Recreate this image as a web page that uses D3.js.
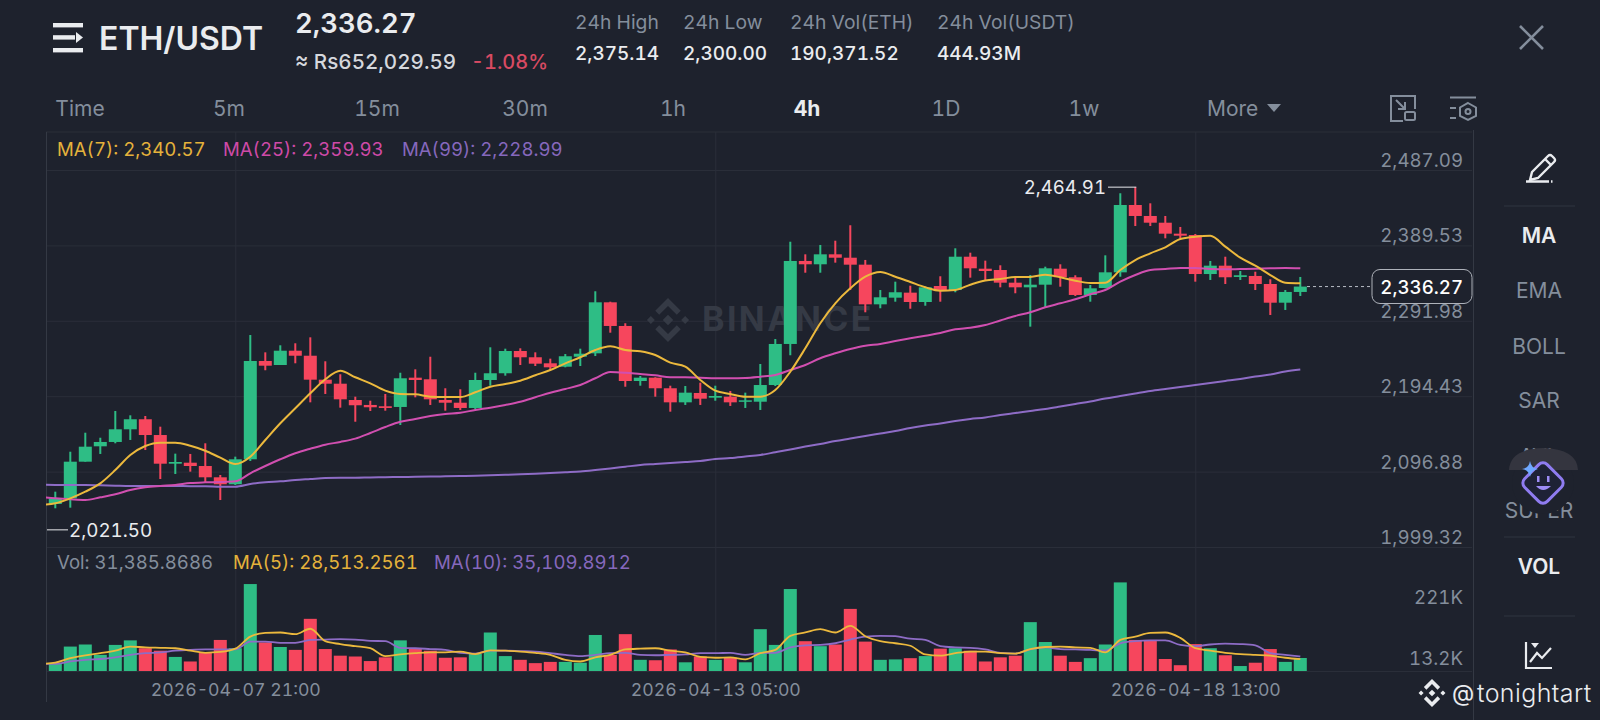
<!DOCTYPE html>
<html>
<head>
<meta charset="utf-8">
<script src="https://cdn.jsdelivr.net/npm/d3@7"></script>
<style>
  html, body { margin: 0; padding: 0; background: #1e222d; overflow: hidden; }
  text { font-family: Inter, "Noto Sans", sans-serif; font-variant-numeric: tabular-nums; }
</style>
</head>
<body>
<div id="chart"></div>
<script>
// candles, oldest first, 4h each
var opens = [2055.0,2062.3,2109.7,2129.6,2135.2,2151.6,2164.6,2144.2,2107.1,2108.4,2104.1,2089.5,2080.5,2112.8,2240.0,2234.8,2253.3,2246.8,2215.8,2210.6,2189.5,2183.1,2181.4,2180.5,2218.4,2216.3,2189.5,2186.0,2179.2,2215.4,2224.1,2252.9,2244.8,2237.0,2232.6,2245.5,2249.9,2315.9,2285.3,2214.1,2218.4,2204.7,2186.5,2198.6,2192.5,2193.8,2187.8,2187.3,2208.9,2262.0,2369.4,2365.1,2378.0,2373.6,2364.6,2313.3,2321.9,2328.4,2316.3,2337.0,2331.8,2374.9,2359.4,2357.7,2341.3,2335.3,2338.7,2359.4,2348.3,2325.4,2334.4,2354.7,2441.8,2427.6,2418.9,2404.7,2403.0,2352.5,2363.3,2348.7,2350.0,2339.6,2315.4,2329.3];
var highs = [2070.9,2122.6,2147.2,2140.7,2175.3,2169.7,2168.8,2155.0,2120.1,2119.7,2133.5,2092.5,2116.2,2273.6,2251.2,2260.3,2262.9,2270.6,2239.6,2222.8,2193.8,2188.6,2197.3,2224.8,2229.2,2245.5,2204.7,2203.4,2224.8,2257.7,2255.9,2256.4,2251.2,2243.0,2249.0,2255.9,2330.2,2316.7,2288.8,2220.6,2218.9,2208.0,2207.6,2211.9,2208.0,2201.2,2199.0,2236.1,2268.4,2394.3,2378.0,2390.1,2395.6,2415.6,2370.7,2331.8,2342.6,2337.4,2336.1,2349.6,2385.8,2380.1,2369.8,2363.8,2348.3,2351.2,2362.0,2365.1,2350.9,2338.3,2376.7,2457.0,2464.91,2444.0,2427.6,2413.4,2404.3,2369.4,2374.9,2356.4,2355.5,2345.7,2331.8,2348.7];
var lows = [2049.4,2050.2,2109.7,2119.7,2133.5,2137.8,2124.8,2087.3,2093.8,2096.8,2083.0,2060.1,2079.6,2110.6,2228.0,2234.8,2237.0,2186.5,2197.3,2179.6,2161.4,2175.3,2175.7,2157.2,2193.0,2183.1,2175.7,2176.6,2177.5,2208.0,2221.0,2234.8,2233.5,2228.3,2231.8,2233.5,2246.4,2276.6,2206.7,2208.0,2193.8,2174.4,2183.1,2183.1,2188.6,2181.8,2179.2,2176.6,2207.6,2247.4,2354.2,2354.2,2367.2,2331.8,2303.0,2308.2,2316.7,2307.6,2311.5,2316.7,2328.9,2347.8,2344.8,2335.3,2327.6,2284.4,2309.5,2336.1,2324.1,2316.7,2334.0,2349.0,2414.6,2414.6,2398.7,2398.7,2342.6,2344.8,2339.6,2344.8,2331.8,2299.5,2306.0,2324.1];
var closes = [2062.3,2109.7,2129.1,2135.2,2151.6,2164.6,2144.2,2107.1,2109.3,2104.1,2089.5,2080.5,2112.8,2240.0,2233.9,2253.3,2246.8,2215.8,2210.6,2190.4,2182.7,2180.1,2179.2,2217.6,2215.4,2190.4,2186.0,2179.2,2215.4,2224.1,2252.9,2244.8,2236.5,2231.8,2246.1,2249.4,2315.9,2285.3,2214.1,2218.4,2204.7,2186.5,2199.0,2191.2,2194.7,2186.5,2189.1,2208.9,2262.0,2369.4,2365.1,2378.0,2373.6,2364.6,2313.3,2322.4,2328.9,2316.3,2335.3,2330.5,2374.9,2359.9,2356.4,2341.3,2335.3,2338.7,2359.9,2348.3,2325.4,2334.0,2354.7,2441.8,2427.6,2418.9,2404.7,2402.1,2352.5,2363.3,2348.3,2350.9,2339.6,2315.4,2329.3,2336.27];
// volume in thousands
var volumes = [17,59,64,39,63,74,55,49,34,23,44,75,55,210,69,58,51,126,53,37,35,24,33,74,55,49,32,33,41,93,36,27,19,22,22,20,87,39,89,27,26,52,21,35,27,32,21,101,63,198,72,60,64,150,71,27,28,31,36,54,55,49,23,33,37,118,70,37,22,31,64,214,75,75,29,14,65,55,38,12,20,53,22,31.39];

// moving averages, first value is the candle just left of the frame
var ma7 = [2053.7,2055.9,2062.3,2070.9,2081.7,2098.9,2118.4,2130.0,2134.3,2134.3,2130.4,2123.9,2114.9,2106.7,2116.2,2137.8,2159.4,2178.8,2198.2,2216.3,2227.4,2218.9,2211.1,2201.6,2197.3,2196.9,2193.8,2193.4,2193.4,2199.5,2206.7,2210.2,2214.5,2221.5,2228.3,2237.0,2244.8,2254.2,2259.0,2254.2,2252.5,2247.7,2237.8,2232.6,2215.4,2201.6,2197.3,2193.8,2193.8,2202.4,2226.1,2256.4,2288.8,2314.6,2334.0,2349.0,2355.1,2349.0,2342.2,2335.3,2330.9,2331.8,2338.7,2344.2,2346.0,2348.7,2348.7,2351.6,2348.3,2343.9,2340.9,2341.3,2357.7,2370.6,2379.3,2387.1,2397.8,2400.8,2402.1,2387.9,2373.6,2363.3,2351.2,2341.3,2340.57];
var ma25 = [2064.0,2062.3,2061.0,2060.1,2063.6,2067.5,2073.1,2076.6,2078.3,2079.6,2082.1,2083.0,2083.4,2084.3,2094.7,2104.1,2112.8,2120.6,2126.5,2131.7,2135.2,2139.5,2146.8,2154.6,2161.4,2164.9,2168.8,2171.4,2173.1,2176.6,2179.6,2183.1,2187.3,2193.0,2199.0,2203.8,2208.9,2217.6,2225.7,2224.8,2223.1,2221.5,2218.9,2218.9,2218.4,2217.6,2217.6,2218.0,2219.7,2221.9,2228.3,2234.8,2243.5,2249.9,2255.5,2259.8,2262.0,2265.8,2269.3,2272.7,2276.2,2281.0,2283.0,2286.5,2292.4,2298.2,2303.0,2309.5,2314.6,2319.8,2326.3,2331.8,2342.6,2351.2,2357.7,2359.0,2360.3,2360.3,2359.0,2358.6,2359.0,2359.4,2359.9,2360.3,2359.93];
var ma99 = [2079.9,2079.6,2079.6,2079.6,2079.2,2078.7,2078.3,2078.3,2078.3,2078.3,2077.9,2077.9,2077.4,2077.4,2080.8,2083.0,2084.3,2086.0,2087.3,2088.6,2089.0,2089.0,2089.4,2089.6,2089.9,2090.1,2090.4,2090.8,2091.2,2091.6,2092.1,2092.7,2093.4,2094.2,2095.1,2096.1,2097.1,2098.9,2101.0,2103.2,2105.4,2106.7,2108.0,2109.3,2110.6,2113.2,2114.5,2116.4,2118.4,2121.9,2125.5,2129.4,2132.6,2136.5,2139.7,2143.0,2146.2,2149.4,2153.3,2156.5,2159.1,2162.3,2164.9,2166.9,2170.1,2172.7,2175.3,2177.9,2181.1,2184.4,2187.6,2191.5,2194.7,2198.0,2201.2,2203.8,2206.3,2208.9,2211.5,2214.1,2216.7,2219.9,2222.5,2226.4,2228.99];
var volMa5 = [17,20,31,38,43,49,59,57,56,55,49,44,46,54,83,92,93,89,102,72,65,60,55,36,40,43,45,45,47,41,50,49,47,44,39,27,23,33,39,52,54,55,49,45,34,32,33,28,43,51,85,93,101,93,109,84,72,67,61,40,37,43,47,47,43,42,53,58,59,57,56,45,75,83,92,93,80,55,49,44,41,39,37,32,28.51];
var volMa10 = [17,17,23,27,29,33,39,43,45,49,51,52,52,52,71,71,68,68,75,76,77,76,73,72,56,55,53,51,44,42,49,49,48,47,43,39,36,39,43,44,39,38,39,40,43,43,44,39,44,44,57,62,63,67,76,83,85,84,78,75,60,57,56,52,44,42,52,57,53,52,51,49,67,72,74,74,63,60,64,66,65,62,43,39,35.11];

var priceTicks = [2487.09, 2389.53, 2291.98, 2194.43, 2096.88, 1999.32];
var volTickLabels = ["221K", "13.2K"];
var timeTickIndex = [12, 44, 76];
var timeTickLabels = ["2026-04-07 21:00", "2026-04-13 05:00", "2026-04-18 13:00"];
var intervals = ["Time", "5m", "15m", "30m", "1h", "4h", "1D", "1w"];
var statHeads = ["24h High", "24h Low", "24h Vol(ETH)", "24h Vol(USDT)"];
var statValues = ["2,375.14", "2,300.00", "190,371.52", "444.93M"];
var sideItems = ["MA", "EMA", "BOLL", "SAR", "AVL", "SUPER", "VOL"];

var lastPrice = 2336.27, highPrice = 2464.91, lowPrice = 2021.50;

var width = 1600, height = 720;
var bg = "#1e222d", up = "#2ebd85", down = "#f6465d", grey = "#848e9c", grid = "#2a2e39", frame = "#343944";
var yellow = "#ecb93d", pink = "#d14fb0", purple = "#8e6cc6";

var svg = d3.select("#chart").append("svg")
  .attr("width", width)
  .attr("height", height)
  .style("display", "block");

svg.append("rect").attr("width", width).attr("height", height).attr("fill", bg);

// scales
var x = d3.scaleLinear().domain([0, 83]).range([55.3, 1300.3]);
var y = d3.scaleLinear().domain([1999.32, 2487.09]).range([547, 170]);
var yVol = d3.scaleLinear().domain([0, 221]).range([671, 579.5]);
var bodyW = 13;

svg.append("clipPath").attr("id", "plot")
  .append("rect").attr("x", 46).attr("y", 130).attr("width", 1426).attr("height", 560);

// price grid + labels
var yAxis = d3.axisLeft(y).tickValues(priceTicks).tickSize(1426).tickFormat(d3.format(",.2f"));
var gy = svg.append("g").attr("transform", "translate(1472,0)").call(yAxis);
gy.select(".domain").remove();
gy.selectAll("line").attr("stroke", grid);
gy.selectAll("text")
  .attr("x", -9).attr("dy", "-3.6px")
  .attr("fill", grey).attr("font-size", 18.7);

// time grid + labels
var xAxis = d3.axisBottom(x).tickValues(timeTickIndex).tickSize(-539)
  .tickFormat(function(d) { return timeTickLabels[timeTickIndex.indexOf(d)]; });
var gx = svg.append("g").attr("transform", "translate(0,671)").call(xAxis);
gx.select(".domain").remove();
gx.selectAll("line").attr("stroke", grid);
gx.selectAll("text").attr("y", 12).attr("fill", grey).attr("font-size", 17.7);

// frame
svg.append("line").attr("x1", 46).attr("x2", 1472).attr("y1", 132).attr("y2", 132).attr("stroke", grid);
svg.append("line").attr("x1", 46).attr("x2", 1472).attr("y1", 671.5).attr("y2", 671.5).attr("stroke", grid);
svg.append("line").attr("x1", 46.5).attr("x2", 46.5).attr("y1", 132).attr("y2", 702).attr("stroke", frame);
svg.append("line").attr("x1", 1473.5).attr("x2", 1473.5).attr("y1", 130).attr("y2", 720).attr("stroke", frame);

// watermark
drawBinance(svg, 668, 320, 22, "#353a45");
svg.append("text").attr("x", 702).attr("y", 331).attr("font-size", 34).attr("font-weight", 700)
  .attr("letter-spacing", 2.4).attr("fill", "#353a45").text("BINANCE");

var plot = svg.append("g").attr("clip-path", "url(#plot)");

// candles
var candles = plot.selectAll(".candle").data(closes).join("g").attr("class", "candle");
candles.append("rect")
  .attr("x", function(d, i) { return x(i) - 1; })
  .attr("width", 2)
  .attr("y", function(d, i) { return y(highs[i]); })
  .attr("height", function(d, i) { return y(lows[i]) - y(highs[i]); })
  .attr("fill", function(d, i) { return d >= opens[i] ? up : down; });
candles.append("rect")
  .attr("x", function(d, i) { return x(i) - bodyW / 2; })
  .attr("width", bodyW)
  .attr("y", function(d, i) { return y(Math.max(d, opens[i])); })
  .attr("height", function(d, i) { return Math.max(1.5, Math.abs(y(d) - y(opens[i]))); })
  .attr("fill", function(d, i) { return d >= opens[i] ? up : down; });

// volume bars
plot.selectAll(".vol").data(volumes).join("rect").attr("class", "vol")
  .attr("x", function(d, i) { return x(i) - bodyW / 2; })
  .attr("width", bodyW)
  .attr("y", function(d) { return yVol(d); })
  .attr("height", function(d) { return yVol(0) - yVol(d); })
  .attr("fill", function(d, i) { return closes[i] >= opens[i] ? up : down; });

// ma lines start one candle left of the frame
function maLine(values, scale, color, w) {
  var line = d3.line()
    .x(function(d, i) { return x(i - 1); })
    .y(function(d) { return scale(d); })
    .curve(d3.curveMonotoneX);
  plot.append("path").attr("d", line(values)).attr("fill", "none")
    .attr("stroke", color).attr("stroke-width", w).attr("stroke-linejoin", "round");
}
maLine(ma99, y, purple, 2);
maLine(ma25, y, pink, 2);
maLine(ma7, y, yellow, 2);
maLine(volMa10, yVol, purple, 1.8);
maLine(volMa5, yVol, yellow, 1.8);

// legends
function legend(parts, ly) {
  parts.forEach(function(p) {
    svg.append("text").attr("x", p[0]).attr("y", ly).attr("font-size", 18.6)
      .attr("fill", p[2]).text(p[1]);
  });
}
legend([[57, "MA(7): 2,340.57", "#e5b23b"], [223, "MA(25): 2,359.93", "#cf4aa8"], [402, "MA(99): 2,228.99", "#8668bd"]], 155.5);
legend([[57, "Vol: 31,385.8686", grey], [233, "MA(5): 28,513.2561", "#e5b23b"], [434, "MA(10): 35,109.8912", "#8668bd"]], 568.5);

// high / low markers
var hiX = x(highs.indexOf(highPrice));
svg.append("line").attr("x1", 1108).attr("x2", hiX + 1).attr("y1", y(highPrice)).attr("y2", y(highPrice)).attr("stroke", "#e8e9ec");
svg.append("text").attr("x", 1106).attr("y", y(highPrice) + 7).attr("text-anchor", "end")
  .attr("font-size", 18.6).attr("fill", "#eaecef").text(d3.format(",.2f")(highPrice));
svg.append("line").attr("x1", 47).attr("x2", 68).attr("y1", y(lowPrice)).attr("y2", y(lowPrice)).attr("stroke", "#e8e9ec");
svg.append("text").attr("x", 69).attr("y", y(lowPrice) + 7)
  .attr("font-size", 18.8).attr("fill", "#eaecef").text(d3.format(",.2f")(lowPrice));

// last price tag
svg.append("line").attr("x1", 1307).attr("x2", 1372).attr("y1", y(lastPrice)).attr("y2", y(lastPrice))
  .attr("stroke", "#b9bdc6").attr("stroke-dasharray", "3,3");
svg.append("rect").attr("x", 1372).attr("y", 269.5).attr("width", 100).attr("height", 34).attr("rx", 8)
  .attr("fill", bg).attr("stroke", "#aeb2ba").attr("stroke-width", 1);
svg.append("text").attr("x", 1463).attr("y", y(lastPrice) + 7).attr("text-anchor", "end")
  .attr("font-size", 18.7).attr("font-weight", 500).attr("fill", "#fff").text(d3.format(",.2f")(lastPrice));

// volume axis labels
var volTextY = [604, 665];
volTickLabels.forEach(function(t, i) {
  svg.append("text").attr("x", 1463).attr("y", volTextY[i]).attr("text-anchor", "end")
    .attr("font-size", 18.7).attr("fill", grey).text(t);
});

// header
svg.append("rect").attr("x", 53).attr("y", 23).attr("width", 30).attr("height", 4.4).attr("fill", "#eaecef");
svg.append("rect").attr("x", 53).attr("y", 35.2).attr("width", 22).attr("height", 4.4).attr("fill", "#eaecef");
svg.append("path").attr("d", "M76,32 L83,37.4 L76,43 Z").attr("fill", "#eaecef");
svg.append("rect").attr("x", 53).attr("y", 48).attr("width", 30).attr("height", 4.4).attr("fill", "#eaecef");
svg.append("text").attr("x", 99).attr("y", 50).attr("font-size", 32).attr("font-weight", 600).attr("fill", "#eaecef").text("ETH/USDT");
svg.append("text").attr("x", 295).attr("y", 33).attr("font-size", 27.5).attr("font-weight", 600).attr("fill", "#eaecef").text("2,336.27");
svg.append("text").attr("x", 295).attr("y", 69).attr("font-size", 20.6).attr("font-weight", 500).attr("fill", "#d5d8dd").text("≈ Rs652,029.59");
svg.append("text").attr("x", 471).attr("y", 69).attr("font-size", 20).attr("font-weight", 500).attr("fill", "#d84a62").text("-1.08%");

var statX = [575, 683, 790, 937];
statHeads.forEach(function(t, i) {
  svg.append("text").attr("x", statX[i]).attr("y", 29).attr("font-size", 19.3).attr("fill", grey).text(t);
  svg.append("text").attr("x", statX[i]).attr("y", 60).attr("font-size", 19).attr("font-weight", 500).attr("fill", "#eaecef").text(statValues[i]);
});

// interval tabs
var tabX = [80, 229, 377, 525, 673, 807, 946, 1084];
intervals.forEach(function(t, i) {
  svg.append("text").attr("x", tabX[i]).attr("y", 116).attr("text-anchor", "middle")
    .attr("font-size", 21)
    .attr("font-weight", t == "4h" ? 700 : 400)
    .attr("fill", t == "4h" ? "#eaecef" : grey).text(t);
});
svg.append("text").attr("x", 1207).attr("y", 116).attr("font-size", 21).attr("fill", grey).text("More");
svg.append("path").attr("d", "M1267,104 L1281,104 L1274,112 Z").attr("fill", grey);

// toolbar icons
var ic = svg.append("g").attr("fill", "none").attr("stroke", grey).attr("stroke-width", 2);
ic.append("path").attr("d", "M1393,121 L1391,121 L1391,96 L1415,96 L1415,109 M1391,121 L1403,121");
ic.append("rect").attr("x", 1405).attr("y", 112).attr("width", 10).attr("height", 8).attr("rx", 1.5);
ic.append("path").attr("d", "M1396,100 L1405,109 M1405,102 L1405,109 L1398,109");
ic.append("path").attr("d", "M1450,97.5 L1476,97.5 M1450,108 L1456,108 M1450,118 L1456,118");
ic.append("path").attr("d", "M1468,103 L1476,107.5 L1476,116 L1468,120 L1460,116 L1460,107.5 Z");
ic.append("circle").attr("cx", 1468).attr("cy", 111.5).attr("r", 2.5);

// close button
svg.append("path").attr("d", "M1520,26 L1543,49 M1543,26 L1520,49").attr("stroke", grey).attr("stroke-width", 2.6);

// right side menu
var sideY = [235, 290, 346, 400, 456, 510, 566];
sideItems.forEach(function(t, i) {
  var on = (t == "MA" || t == "VOL");
  svg.append("text").attr("x", 1539).attr("y", sideY[i] + 7.5).attr("text-anchor", "middle")
    .attr("font-size", 21).attr("font-weight", on ? 600 : 400)
    .attr("fill", on ? "#eaecef" : grey).text(t);
});
[206, 537, 616].forEach(function(ly) {
  svg.append("line").attr("x1", 1504).attr("x2", 1575).attr("y1", ly).attr("y2", ly).attr("stroke", "#2f3440");
});

// pencil
var pen = svg.append("g").attr("fill", "none").attr("stroke", "#eaecef").attr("stroke-width", 2.4);
pen.append("path").attr("d", "M1532,172 L1548,156 Q1550,154 1552,156 L1554,158 Q1556,160 1554,162 L1538,178 L1530,180 Z");
pen.append("path").attr("d", "M1545,159 L1551,165");
pen.append("path").attr("d", "M1526,181.5 L1549,181.5 M1551,181.5 L1552.5,181.5");

// chart icon
var chartIc = svg.append("g").attr("fill", "none").attr("stroke", "#eaecef").attr("stroke-width", 2.2);
chartIc.append("path").attr("d", "M1526,642 L1526,668 L1552,668");
chartIc.append("path").attr("d", "M1530,662 L1537,653 L1542,658 L1551,648");
svg.append("path").attr("d", "M1531,643 L1539,643 L1535,648 Z").attr("fill", "#eaecef");

// floating assistant over the menu
svg.append("circle").attr("cx", 1543).attr("cy", 483).attr("r", 31).attr("fill", bg);
svg.append("path").attr("d", "M1509,470 Q1510,449 1543,448 Q1577,449 1578,470 Z").attr("fill", "#34353f");
svg.append("rect").attr("x", 1527).attr("y", 467).attr("width", 32).attr("height", 32).attr("rx", 6)
  .attr("transform", "rotate(45 1543 483)").attr("fill", "#1e2236").attr("stroke", "#8f7cf0").attr("stroke-width", 3);
svg.append("path").attr("d", "M1530,461 Q1531,468 1538,469 Q1531,470 1530,477 Q1529,470 1522,469 Q1529,468 1530,461 Z").attr("fill", "#6fa8ff");
svg.append("rect").attr("x", 1537).attr("y", 476).attr("width", 2.5).attr("height", 6).attr("fill", "#9d8cf5");
svg.append("rect").attr("x", 1547).attr("y", 476).attr("width", 2.5).attr("height", 6).attr("fill", "#9d8cf5");
svg.append("path").attr("d", "M1536,486 Q1543,494 1551,486 Z").attr("fill", "#9d8cf5");

// square logo + handle, bottom right
drawBinance(svg, 1432, 693, 14, "#eaecef");
svg.append("text").attr("x", 1452).attr("y", 701).attr("font-size", 23).attr("fill", "#eaecef").text("@");
svg.append("text").attr("x", 1477).attr("y", 702).attr("font-size", 25).attr("font-weight", 300).attr("letter-spacing", 0.4).attr("fill", "#eaecef").text("tonightart");

function drawBinance(parent, cx, cy, r, color) {
  var g = parent.append("g").attr("transform", "translate(" + cx + "," + cy + ") scale(" + r + ")").attr("fill", color);
  g.append("path").attr("d", "M0,-0.24 L0.24,0 L0,0.24 L-0.24,0 Z");
  g.append("path").attr("d", "M-0.78,-0.18 L-0.6,0 L-0.78,0.18 L-0.96,0 Z");
  g.append("path").attr("d", "M0.78,-0.18 L0.96,0 L0.78,0.18 L0.6,0 Z");
  g.append("path").attr("d", "M0,-1 L0.58,-0.42 L0.4,-0.24 L0,-0.64 L-0.4,-0.24 L-0.58,-0.42 Z");
  g.append("path").attr("d", "M0,1 L0.58,0.42 L0.4,0.24 L0,0.64 L-0.4,0.24 L-0.58,0.42 Z");
}
</script>
</body>
</html>
